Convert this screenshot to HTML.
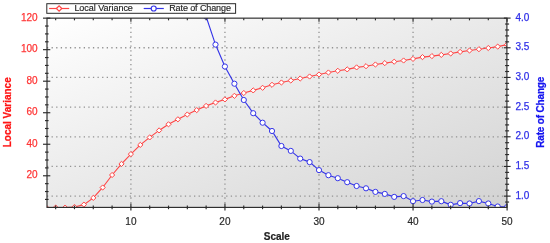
<!DOCTYPE html>
<html><head><meta charset="utf-8"><title>Local Variance / Rate of Change</title>
<style>html,body{margin:0;padding:0;background:#fff}svg{display:block}text{font-family:"Liberation Sans",Arial,sans-serif}</style></head><body>
<svg width="550" height="243" viewBox="0 0 550 243">
<defs><linearGradient id="bg" x1="0" y1="0" x2="1" y2="1"><stop offset="0" stop-color="#ffffff"/><stop offset="1" stop-color="#d3d3d3"/></linearGradient>
<clipPath id="cp"><rect x="47.0" y="18.15" width="459.9" height="189.55"/></clipPath></defs>
<rect width="550" height="243" fill="#fff"/>
<rect x="47.0" y="18.15" width="459.9" height="189.25" fill="url(#bg)"/>
<g stroke="#939393" stroke-width="1.3" fill="none">
<line stroke-dasharray="1.3 3.295" x1="46.96" y1="47.77" x2="506.9" y2="47.77"/>
<line stroke-dasharray="1.3 3.295" x1="46.96" y1="77.44" x2="506.9" y2="77.44"/>
<line stroke-dasharray="1.3 3.295" x1="46.96" y1="107.11" x2="506.9" y2="107.11"/>
<line stroke-dasharray="1.3 3.295" x1="46.96" y1="136.78" x2="506.9" y2="136.78"/>
<line stroke-dasharray="1.3 3.295" x1="46.96" y1="166.45" x2="506.9" y2="166.45"/>
<line stroke-dasharray="1.3 3.295" x1="46.96" y1="196.12" x2="506.9" y2="196.12"/>
<line stroke-dasharray="1.3 3.3" x1="130.90" y1="17.95" x2="130.90" y2="207.4"/>
<line stroke-dasharray="1.3 3.3" x1="224.95" y1="17.95" x2="224.95" y2="207.4"/>
<line stroke-dasharray="1.3 3.3" x1="319.00" y1="17.95" x2="319.00" y2="207.4"/>
<line stroke-dasharray="1.3 3.3" x1="413.05" y1="17.95" x2="413.05" y2="207.4"/>
</g>
<g clip-path="url(#cp)" stroke="#ff4646" fill="#fff" stroke-width="1.0"><polyline stroke-width="1.15" points="46.3,207.6 55.7,207.6 65.1,207.6 74.5,207.0 83.9,204.6 93.3,197.9 102.7,187.5 112.1,175.0 121.5,163.9 130.9,154.1 140.3,144.9 149.7,137.4 159.1,130.4 168.5,124.3 177.9,119.3 187.3,114.5 196.7,110.1 206.1,105.9 215.5,102.5 224.9,99.4 234.4,95.8 243.8,93.0 253.2,90.4 262.6,87.8 272.0,84.8 281.4,82.5 290.8,80.5 300.2,78.5 309.6,76.5 319.0,74.5 328.4,72.5 337.8,70.8 347.2,69.4 356.6,67.4 366.0,66.2 375.4,64.5 384.8,63.1 394.2,61.7 403.6,60.5 413.0,58.9 422.5,57.1 431.9,56.1 441.3,54.9 450.7,53.5 460.1,51.9 469.5,50.5 478.9,49.2 488.3,48.0 497.7,46.6 507.1,44.6" fill="none"/>
<path d="M43.7 207.6L46.3 205.0L48.9 207.6L46.3 210.2Z"/>
<path d="M53.1 207.6L55.7 205.0L58.3 207.6L55.7 210.2Z"/>
<path d="M62.5 207.6L65.1 205.0L67.7 207.6L65.1 210.2Z"/>
<path d="M71.9 207.0L74.5 204.4L77.1 207.0L74.5 209.6Z"/>
<path d="M81.3 204.6L83.9 202.0L86.5 204.6L83.9 207.2Z"/>
<path d="M90.7 197.9L93.3 195.3L95.9 197.9L93.3 200.5Z"/>
<path d="M100.1 187.5L102.7 184.9L105.3 187.5L102.7 190.1Z"/>
<path d="M109.5 175.0L112.1 172.4L114.7 175.0L112.1 177.6Z"/>
<path d="M118.9 163.9L121.5 161.3L124.1 163.9L121.5 166.5Z"/>
<path d="M128.3 154.1L130.9 151.5L133.5 154.1L130.9 156.7Z"/>
<path d="M137.7 144.9L140.3 142.3L142.9 144.9L140.3 147.5Z"/>
<path d="M147.1 137.4L149.7 134.8L152.3 137.4L149.7 140.0Z"/>
<path d="M156.5 130.4L159.1 127.8L161.7 130.4L159.1 133.0Z"/>
<path d="M165.9 124.3L168.5 121.7L171.1 124.3L168.5 126.9Z"/>
<path d="M175.3 119.3L177.9 116.7L180.5 119.3L177.9 121.9Z"/>
<path d="M184.7 114.5L187.3 111.9L189.9 114.5L187.3 117.1Z"/>
<path d="M194.1 110.1L196.7 107.5L199.3 110.1L196.7 112.7Z"/>
<path d="M203.5 105.9L206.1 103.3L208.7 105.9L206.1 108.5Z"/>
<path d="M212.9 102.5L215.5 99.9L218.1 102.5L215.5 105.1Z"/>
<path d="M222.3 99.4L224.9 96.8L227.5 99.4L224.9 102.0Z"/>
<path d="M231.8 95.8L234.4 93.2L237.0 95.8L234.4 98.4Z"/>
<path d="M241.2 93.0L243.8 90.4L246.4 93.0L243.8 95.6Z"/>
<path d="M250.6 90.4L253.2 87.8L255.8 90.4L253.2 93.0Z"/>
<path d="M260.0 87.8L262.6 85.2L265.2 87.8L262.6 90.4Z"/>
<path d="M269.4 84.8L272.0 82.2L274.6 84.8L272.0 87.4Z"/>
<path d="M278.8 82.5L281.4 79.9L284.0 82.5L281.4 85.1Z"/>
<path d="M288.2 80.5L290.8 77.9L293.4 80.5L290.8 83.1Z"/>
<path d="M297.6 78.5L300.2 75.9L302.8 78.5L300.2 81.1Z"/>
<path d="M307.0 76.5L309.6 73.9L312.2 76.5L309.6 79.1Z"/>
<path d="M316.4 74.5L319.0 71.9L321.6 74.5L319.0 77.1Z"/>
<path d="M325.8 72.5L328.4 69.9L331.0 72.5L328.4 75.1Z"/>
<path d="M335.2 70.8L337.8 68.2L340.4 70.8L337.8 73.4Z"/>
<path d="M344.6 69.4L347.2 66.8L349.8 69.4L347.2 72.0Z"/>
<path d="M354.0 67.4L356.6 64.8L359.2 67.4L356.6 70.0Z"/>
<path d="M363.4 66.2L366.0 63.6L368.6 66.2L366.0 68.8Z"/>
<path d="M372.8 64.5L375.4 61.9L378.0 64.5L375.4 67.1Z"/>
<path d="M382.2 63.1L384.8 60.5L387.4 63.1L384.8 65.7Z"/>
<path d="M391.6 61.7L394.2 59.1L396.8 61.7L394.2 64.3Z"/>
<path d="M401.0 60.5L403.6 57.9L406.2 60.5L403.6 63.1Z"/>
<path d="M410.4 58.9L413.0 56.3L415.6 58.9L413.0 61.5Z"/>
<path d="M419.9 57.1L422.5 54.5L425.1 57.1L422.5 59.7Z"/>
<path d="M429.3 56.1L431.9 53.5L434.5 56.1L431.9 58.7Z"/>
<path d="M438.7 54.9L441.3 52.3L443.9 54.9L441.3 57.5Z"/>
<path d="M448.1 53.5L450.7 50.9L453.3 53.5L450.7 56.1Z"/>
<path d="M457.5 51.9L460.1 49.3L462.7 51.9L460.1 54.5Z"/>
<path d="M466.9 50.5L469.5 47.9L472.1 50.5L469.5 53.1Z"/>
<path d="M476.3 49.2L478.9 46.6L481.5 49.2L478.9 51.8Z"/>
<path d="M485.7 48.0L488.3 45.4L490.9 48.0L488.3 50.6Z"/>
<path d="M495.1 46.6L497.7 44.0L500.3 46.6L497.7 49.2Z"/>
<path d="M504.5 44.6L507.1 42.0L509.7 44.6L507.1 47.2Z"/>
</g>
<g clip-path="url(#cp)" stroke="#3535e8" fill="#fff" stroke-width="1.0"><polyline stroke-width="1.15" points="206.1,16.5 215.5,44.6 224.9,66.5 234.4,83.7 243.8,100.0 253.2,113.2 262.6,122.7 272.0,131.0 281.4,146.0 290.8,150.9 300.2,158.6 309.6,162.1 319.0,170.1 328.4,175.2 337.8,178.2 347.2,182.2 356.6,186.0 366.0,188.3 375.4,191.9 384.8,193.9 394.2,196.9 403.6,196.1 413.0,201.2 422.5,200.0 431.9,201.6 441.3,201.2 450.7,204.8 460.1,203.1 469.5,203.5 478.9,201.1 488.3,203.5 497.7,206.5 507.1,207.1" fill="none"/>
<circle cx="206.1" cy="16.5" r="2.6"/>
<circle cx="215.5" cy="44.6" r="2.6"/>
<circle cx="224.9" cy="66.5" r="2.6"/>
<circle cx="234.4" cy="83.7" r="2.6"/>
<circle cx="243.8" cy="100.0" r="2.6"/>
<circle cx="253.2" cy="113.2" r="2.6"/>
<circle cx="262.6" cy="122.7" r="2.6"/>
<circle cx="272.0" cy="131.0" r="2.6"/>
<circle cx="281.4" cy="146.0" r="2.6"/>
<circle cx="290.8" cy="150.9" r="2.6"/>
<circle cx="300.2" cy="158.6" r="2.6"/>
<circle cx="309.6" cy="162.1" r="2.6"/>
<circle cx="319.0" cy="170.1" r="2.6"/>
<circle cx="328.4" cy="175.2" r="2.6"/>
<circle cx="337.8" cy="178.2" r="2.6"/>
<circle cx="347.2" cy="182.2" r="2.6"/>
<circle cx="356.6" cy="186.0" r="2.6"/>
<circle cx="366.0" cy="188.3" r="2.6"/>
<circle cx="375.4" cy="191.9" r="2.6"/>
<circle cx="384.8" cy="193.9" r="2.6"/>
<circle cx="394.2" cy="196.9" r="2.6"/>
<circle cx="403.6" cy="196.1" r="2.6"/>
<circle cx="413.0" cy="201.2" r="2.6"/>
<circle cx="422.5" cy="200.0" r="2.6"/>
<circle cx="431.9" cy="201.6" r="2.6"/>
<circle cx="441.3" cy="201.2" r="2.6"/>
<circle cx="450.7" cy="204.8" r="2.6"/>
<circle cx="460.1" cy="203.1" r="2.6"/>
<circle cx="469.5" cy="203.5" r="2.6"/>
<circle cx="478.9" cy="201.1" r="2.6"/>
<circle cx="488.3" cy="203.5" r="2.6"/>
<circle cx="497.7" cy="206.5" r="2.6"/>
<circle cx="507.1" cy="207.1" r="2.6"/>
</g>
<g stroke="#2a2a2a" stroke-width="1.15" fill="none">
<rect x="47.0" y="18.15" width="459.9" height="189.25"/>
</g>
<g stroke="#2a2a2a" stroke-width="1.15" fill="none">
<line x1="55.66" y1="205.6" x2="55.66" y2="209.20000000000002"/>
<line x1="55.66" y1="18.15" x2="55.66" y2="20.349999999999998"/>
<line x1="74.47" y1="205.6" x2="74.47" y2="209.20000000000002"/>
<line x1="74.47" y1="18.15" x2="74.47" y2="20.349999999999998"/>
<line x1="93.28" y1="205.6" x2="93.28" y2="209.20000000000002"/>
<line x1="93.28" y1="18.15" x2="93.28" y2="20.349999999999998"/>
<line x1="112.09" y1="205.6" x2="112.09" y2="209.20000000000002"/>
<line x1="112.09" y1="18.15" x2="112.09" y2="20.349999999999998"/>
<line x1="130.90" y1="203.4" x2="130.90" y2="210.6"/>
<line x1="130.90" y1="18.15" x2="130.90" y2="21.65"/>
<line x1="149.71" y1="205.6" x2="149.71" y2="209.20000000000002"/>
<line x1="149.71" y1="18.15" x2="149.71" y2="20.349999999999998"/>
<line x1="168.52" y1="205.6" x2="168.52" y2="209.20000000000002"/>
<line x1="168.52" y1="18.15" x2="168.52" y2="20.349999999999998"/>
<line x1="187.33" y1="205.6" x2="187.33" y2="209.20000000000002"/>
<line x1="187.33" y1="18.15" x2="187.33" y2="20.349999999999998"/>
<line x1="206.14" y1="205.6" x2="206.14" y2="209.20000000000002"/>
<line x1="206.14" y1="18.15" x2="206.14" y2="20.349999999999998"/>
<line x1="224.95" y1="203.4" x2="224.95" y2="210.6"/>
<line x1="224.95" y1="18.15" x2="224.95" y2="21.65"/>
<line x1="243.76" y1="205.6" x2="243.76" y2="209.20000000000002"/>
<line x1="243.76" y1="18.15" x2="243.76" y2="20.349999999999998"/>
<line x1="262.57" y1="205.6" x2="262.57" y2="209.20000000000002"/>
<line x1="262.57" y1="18.15" x2="262.57" y2="20.349999999999998"/>
<line x1="281.38" y1="205.6" x2="281.38" y2="209.20000000000002"/>
<line x1="281.38" y1="18.15" x2="281.38" y2="20.349999999999998"/>
<line x1="300.19" y1="205.6" x2="300.19" y2="209.20000000000002"/>
<line x1="300.19" y1="18.15" x2="300.19" y2="20.349999999999998"/>
<line x1="319.00" y1="203.4" x2="319.00" y2="210.6"/>
<line x1="319.00" y1="18.15" x2="319.00" y2="21.65"/>
<line x1="337.81" y1="205.6" x2="337.81" y2="209.20000000000002"/>
<line x1="337.81" y1="18.15" x2="337.81" y2="20.349999999999998"/>
<line x1="356.62" y1="205.6" x2="356.62" y2="209.20000000000002"/>
<line x1="356.62" y1="18.15" x2="356.62" y2="20.349999999999998"/>
<line x1="375.43" y1="205.6" x2="375.43" y2="209.20000000000002"/>
<line x1="375.43" y1="18.15" x2="375.43" y2="20.349999999999998"/>
<line x1="394.24" y1="205.6" x2="394.24" y2="209.20000000000002"/>
<line x1="394.24" y1="18.15" x2="394.24" y2="20.349999999999998"/>
<line x1="413.05" y1="203.4" x2="413.05" y2="210.6"/>
<line x1="413.05" y1="18.15" x2="413.05" y2="21.65"/>
<line x1="431.86" y1="205.6" x2="431.86" y2="209.20000000000002"/>
<line x1="431.86" y1="18.15" x2="431.86" y2="20.349999999999998"/>
<line x1="450.67" y1="205.6" x2="450.67" y2="209.20000000000002"/>
<line x1="450.67" y1="18.15" x2="450.67" y2="20.349999999999998"/>
<line x1="469.48" y1="205.6" x2="469.48" y2="209.20000000000002"/>
<line x1="469.48" y1="18.15" x2="469.48" y2="20.349999999999998"/>
<line x1="488.29" y1="205.6" x2="488.29" y2="209.20000000000002"/>
<line x1="488.29" y1="18.15" x2="488.29" y2="20.349999999999998"/>
<line x1="507.10" y1="203.4" x2="507.10" y2="210.6"/>
<line x1="507.10" y1="18.15" x2="507.10" y2="21.65"/>
<line x1="45.0" y1="199.42" x2="48.6" y2="199.42"/>
<line x1="45.0" y1="191.54" x2="48.6" y2="191.54"/>
<line x1="45.0" y1="183.66" x2="48.6" y2="183.66"/>
<line x1="43.0" y1="175.78" x2="50.3" y2="175.78"/>
<line x1="45.0" y1="167.89" x2="48.6" y2="167.89"/>
<line x1="45.0" y1="160.01" x2="48.6" y2="160.01"/>
<line x1="45.0" y1="152.13" x2="48.6" y2="152.13"/>
<line x1="43.0" y1="144.25" x2="50.3" y2="144.25"/>
<line x1="45.0" y1="136.37" x2="48.6" y2="136.37"/>
<line x1="45.0" y1="128.49" x2="48.6" y2="128.49"/>
<line x1="45.0" y1="120.61" x2="48.6" y2="120.61"/>
<line x1="43.0" y1="112.73" x2="50.3" y2="112.73"/>
<line x1="45.0" y1="104.84" x2="48.6" y2="104.84"/>
<line x1="45.0" y1="96.96" x2="48.6" y2="96.96"/>
<line x1="45.0" y1="89.08" x2="48.6" y2="89.08"/>
<line x1="43.0" y1="81.20" x2="50.3" y2="81.20"/>
<line x1="45.0" y1="73.32" x2="48.6" y2="73.32"/>
<line x1="45.0" y1="65.44" x2="48.6" y2="65.44"/>
<line x1="45.0" y1="57.56" x2="48.6" y2="57.56"/>
<line x1="43.0" y1="49.67" x2="50.3" y2="49.67"/>
<line x1="45.0" y1="41.79" x2="48.6" y2="41.79"/>
<line x1="45.0" y1="33.91" x2="48.6" y2="33.91"/>
<line x1="45.0" y1="26.03" x2="48.6" y2="26.03"/>
<line x1="43.0" y1="18.15" x2="50.3" y2="18.15"/>
<line x1="503.9" y1="18.10" x2="510.59999999999997" y2="18.10"/>
<line x1="505.09999999999997" y1="24.03" x2="509.09999999999997" y2="24.03"/>
<line x1="505.09999999999997" y1="29.97" x2="509.09999999999997" y2="29.97"/>
<line x1="505.09999999999997" y1="35.90" x2="509.09999999999997" y2="35.90"/>
<line x1="505.09999999999997" y1="41.84" x2="509.09999999999997" y2="41.84"/>
<line x1="503.9" y1="47.77" x2="510.59999999999997" y2="47.77"/>
<line x1="505.09999999999997" y1="53.70" x2="509.09999999999997" y2="53.70"/>
<line x1="505.09999999999997" y1="59.64" x2="509.09999999999997" y2="59.64"/>
<line x1="505.09999999999997" y1="65.57" x2="509.09999999999997" y2="65.57"/>
<line x1="505.09999999999997" y1="71.51" x2="509.09999999999997" y2="71.51"/>
<line x1="503.9" y1="77.44" x2="510.59999999999997" y2="77.44"/>
<line x1="505.09999999999997" y1="83.37" x2="509.09999999999997" y2="83.37"/>
<line x1="505.09999999999997" y1="89.31" x2="509.09999999999997" y2="89.31"/>
<line x1="505.09999999999997" y1="95.24" x2="509.09999999999997" y2="95.24"/>
<line x1="505.09999999999997" y1="101.18" x2="509.09999999999997" y2="101.18"/>
<line x1="503.9" y1="107.11" x2="510.59999999999997" y2="107.11"/>
<line x1="505.09999999999997" y1="113.04" x2="509.09999999999997" y2="113.04"/>
<line x1="505.09999999999997" y1="118.98" x2="509.09999999999997" y2="118.98"/>
<line x1="505.09999999999997" y1="124.91" x2="509.09999999999997" y2="124.91"/>
<line x1="505.09999999999997" y1="130.85" x2="509.09999999999997" y2="130.85"/>
<line x1="503.9" y1="136.78" x2="510.59999999999997" y2="136.78"/>
<line x1="505.09999999999997" y1="142.71" x2="509.09999999999997" y2="142.71"/>
<line x1="505.09999999999997" y1="148.65" x2="509.09999999999997" y2="148.65"/>
<line x1="505.09999999999997" y1="154.58" x2="509.09999999999997" y2="154.58"/>
<line x1="505.09999999999997" y1="160.52" x2="509.09999999999997" y2="160.52"/>
<line x1="503.9" y1="166.45" x2="510.59999999999997" y2="166.45"/>
<line x1="505.09999999999997" y1="172.38" x2="509.09999999999997" y2="172.38"/>
<line x1="505.09999999999997" y1="178.32" x2="509.09999999999997" y2="178.32"/>
<line x1="505.09999999999997" y1="184.25" x2="509.09999999999997" y2="184.25"/>
<line x1="505.09999999999997" y1="190.19" x2="509.09999999999997" y2="190.19"/>
<line x1="503.9" y1="196.12" x2="510.59999999999997" y2="196.12"/>
<line x1="505.09999999999997" y1="202.05" x2="509.09999999999997" y2="202.05"/>
</g>
<g font-size="10px" fill="#2a2a2a" stroke="#2a2a2a" stroke-width="0.2" text-anchor="middle">
<text x="130.9" y="224.6">10</text>
<text x="224.9" y="224.6">20</text>
<text x="319.0" y="224.6">30</text>
<text x="413.0" y="224.6">40</text>
<text x="507.1" y="224.6">50</text>
</g>
<g font-size="10px" fill="#ff3636" stroke="#ff3636" stroke-width="0.25" text-anchor="end">
<text x="37.6" y="178.3">20</text>
<text x="37.6" y="146.8">40</text>
<text x="37.6" y="115.2">60</text>
<text x="37.6" y="83.7">80</text>
<text x="37.6" y="52.2">100</text>
<text x="37.6" y="20.7">120</text>
</g>
<g font-size="10px" fill="#3030e8" stroke="#3030e8" stroke-width="0.25" text-anchor="start">
<text x="515.5" y="20.7">4.0</text>
<text x="515.5" y="50.4">3.5</text>
<text x="515.5" y="80.0">3.0</text>
<text x="515.5" y="109.7">2.5</text>
<text x="515.5" y="139.4">2.0</text>
<text x="515.5" y="169.1">1.5</text>
<text x="515.5" y="198.7">1.0</text>
</g>
<text x="276.8" y="240" font-size="10px" font-weight="bold" fill="#222" stroke="#222" stroke-width="0.2" text-anchor="middle">Scale</text>
<text transform="translate(10.7 112.3) rotate(-90)" font-size="10px" font-weight="bold" fill="#ff1515" stroke="#ff1515" stroke-width="0.25" text-anchor="middle">Local Variance</text>
<text transform="translate(544 112.3) rotate(-90)" font-size="10px" font-weight="bold" letter-spacing="-0.18" fill="#1515f0" stroke="#1515f0" stroke-width="0.25" text-anchor="middle">Rate of Change</text>
<rect x="46.8" y="3.7" width="188.8" height="9.6" fill="#fff" stroke="#2a2a2a" stroke-width="1"/>
<g stroke="#ff4646" stroke-width="1.2" fill="#fff"><line x1="49.1" y1="8.5" x2="69.2" y2="8.5"/><path d="M56.4 8.5L59.1 5.8L61.8 8.5L59.1 11.2Z"/></g>
<g stroke="#3535e8" stroke-width="1.2" fill="#fff"><line x1="143.7" y1="8.5" x2="163.8" y2="8.5"/><circle cx="153.7" cy="8.5" r="2.5"/></g>
<text x="74.4" y="11.2" font-size="9px" letter-spacing="-0.03" fill="#1c1c1c" stroke="#1c1c1c" stroke-width="0.15">Local Variance</text>
<text x="169.2" y="11.2" font-size="9px" letter-spacing="-0.1" fill="#1c1c1c" stroke="#1c1c1c" stroke-width="0.15">Rate of Change</text>
</svg></body></html>
